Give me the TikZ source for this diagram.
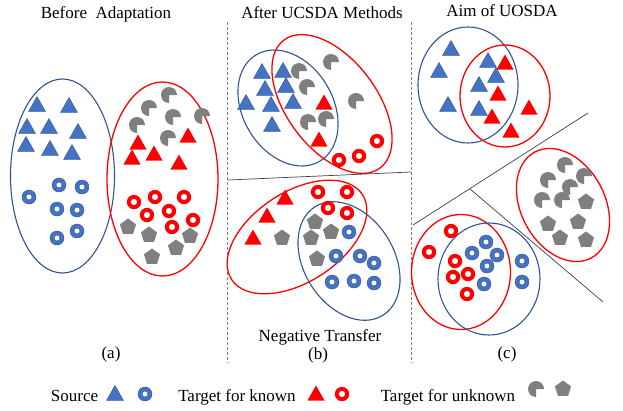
\documentclass[tikz,border=0pt]{standalone}
\usepackage{fontspec}
\setmainfont{Liberation Serif}
\definecolor{bfill}{HTML}{4472C4}
\definecolor{bedge}{HTML}{2F528F}
\definecolor{bell}{HTML}{2F5597}
\definecolor{rr}{HTML}{FF0000}
\definecolor{gg}{HTML}{7F7F7F}
\tikzset{
 btri/.pic={\filldraw[fill=bfill,draw=bedge,line width=0.4pt,line join=round] (0,-8.5)--(8.5,6.5)--(-8.5,6.5)--cycle;},
 rtri/.pic={\fill[rr] (0,-8.5)--(8.5,6.5)--(-8.5,6.5)--cycle;},
 bring/.pic={\filldraw[fill=bfill,draw=bedge,line width=0.4pt,even odd rule] (0,0) circle (7) (0,0) circle (3);},
 rring/.pic={\fill[rr,even odd rule] (0,0) circle (7.2) (0,0) circle (3.2);},
 pac/.pic={\fill[gg] (0pt,0pt) -- (0pt,-8pt) arc[start angle=270,end angle=0,radius=8pt] -- cycle;},
 pent/.pic={\fill[gg] (270:8.5)--(342:8.5)--(54:8.5)--(126:8.5)--(198:8.5)--cycle;},
 bellipse/.style={draw=bell,line width=1.1pt},
 rellipse/.style={draw=rr,line width=1.3pt},
 lbl/.style={font=\fontsize{17}{20}\selectfont, inner sep=0pt},
 divider/.style={draw=gg,line width=1pt,dash pattern=on 3pt off 2pt},
 sepline/.style={draw=black!75,line width=0.7pt},
}
\begin{document}
\begin{tikzpicture}[x=1pt,y=-1pt]
\useasboundingbox[fill=white] (0,0) rectangle (623,410);

% dividers
\coordinate (d1t) at (227,22); \coordinate (d1b) at (227,363);
\coordinate (d2t) at (411,22); \coordinate (d2b) at (411,363);
\draw[divider] (d1t) -- (d1b);
\draw[divider] (d2t) -- (d2b);

% ---------- panel (a)
\draw[bellipse] (62.5,176) ellipse [x radius=52, y radius=97];
\draw[rellipse] (162.5,179) ellipse [x radius=55.5, y radius=97];
\foreach \p in {(37,105),(69,106),(27,127),(49,127),(78,132),(26,145),(50,149),(72,153)} \path \p pic {btri};
\foreach \p in {(29,197),(59,185),(82,187),(57,209),(77,210),(57,238),(77,231)} \path \p pic {bring};
\foreach \p in {(138,143),(188,136),(132,158),(154,154),(179,163)} \path \p pic {rtri};
\foreach \p in {(169,95),(149,108),(173,117),(202,116),(137,125),(168,138)} \path \p pic {pac};
\foreach \p in {(134,202),(155,197),(184,197),(147,215),(169,211),(193,220),(172,227)} \path \p pic {rring};
\foreach \p in {(128,227),(149,235),(190,236),(152,257),(176,248)} \path \p pic {pent};

% ---------- panel (b) top
\draw[bellipse, rotate around={-59:(288,108)}] (288,108) ellipse [x radius=62, y radius=45];
\draw[rellipse, rotate around={-53:(332,104)}] (332,104) ellipse [x radius=80, y radius=45];
\foreach \p in {(262,72),(283,71),(265,89),(286,86),(246,103),(271,105),(293,102),(272,125)} \path \p pic {btri};
\foreach \p in {(299,71),(331,62),(307,87),(356,101),(308,122),(326,119)} \path \p pic {pac};
\foreach \p in {(324,103),(319,140)} \path \p pic {rtri};
\foreach \p in {(339,160),(359,156),(377,141)} \path \p pic {rring};

\coordinate (s1a) at (228,180); \coordinate (s1b) at (411,172);
\draw[sepline] (s1a) -- (s1b);

% ---------- panel (b) bottom
\draw[rellipse, rotate around={33:(297,237)}] (297,237) ellipse [x radius=78, y radius=45];
\draw[bellipse, rotate around={-58:(349,261)}] (349,261) ellipse [x radius=64, y radius=45];
\foreach \p in {(285,198),(267,216),(253,238)} \path \p pic {rtri};
\foreach \p in {(318,192),(347,192),(328,208),(347,213)} \path \p pic {rring};
\foreach \p in {(282,238),(315,222),(311,238),(331,232),(317,259)} \path \p pic {pent};
\foreach \p in {(349,232),(336,256),(360,256),(374,263),(332,282),(354,281),(374,283)} \path \p pic {bring};

% ---------- panel (c)
\draw[bellipse] (468,85) ellipse [x radius=50, y radius=58];
\draw[rellipse] (505,96) ellipse [x radius=45, y radius=51];
\foreach \p in {(451,49),(439,71),(488,61),(479,85),(448,105),(479,109)} \path \p pic {btri};
\foreach \p in {(505,63),(498,94),(529,108),(492,117),(511,131)} \path \p pic {rtri};
\path (496,76) pic {btri};

\coordinate (c1a) at (413,225); \coordinate (c1b) at (588,113);
\coordinate (c2a) at (470,189); \coordinate (c2b) at (603,302);
\draw[sepline] (c1a) -- (c1b);
\draw[sepline] (c2a) -- (c2b);

\draw[rellipse, rotate around={-62:(563,205)}] (563,205) ellipse [x radius=60, y radius=42];
\foreach \p in {(565,165),(584,176),(548,180),(570,187),(542,200),(562,200)} \path \p pic {pac};
\foreach \p in {(586,202),(548,224),(578,222),(560,238),(586,240)} \path \p pic {pent};

\draw[rellipse] (461,272) ellipse [x radius=49.5, y radius=57.5];
\draw[bellipse] (489,279) ellipse [x radius=51, y radius=56];
\foreach \p in {(451,231),(429,252),(455,261),(453,277),(468,274),(467,294)} \path \p pic {rring};
\foreach \p in {(486,242),(472,253),(497,255),(487,266),(522,261),(484,284),(522,282)} \path \p pic {bring};

% ---------- texts
\node[lbl, anchor=base] (ta) at (106,18.5) {Before~ Adaptation};
\node[lbl, anchor=base] (tb) at (322,18.5) {After UCSDA Methods};
\node[lbl, anchor=base] (tc) at (502,16.5) {Aim of UOSDA};
\node[lbl, anchor=base] (neg) at (320,341.5) {Negative Transfer};
\node[lbl] (la) at (111,354) {(a)};
\node[lbl] (lb) at (318,355) {(b)};
\node[lbl] (lc) at (507,354) {(c)};

% ---------- legend
\node[lbl, anchor=base] (src) at (74.5,401.5) {Source};
\path (115,394) pic {btri};
\path (145,394) pic {bring};
\node[lbl, anchor=base] (tk) at (237,401.5) {Target for known};
\path (316,394) pic {rtri};
\path (342,394) pic {rring};
\node[lbl, anchor=base] (tu) at (448,401.5) {Target for unknown};
\path (536,389) pic {pac};
\path (563,389) pic {pent};
\end{tikzpicture}
\end{document}
